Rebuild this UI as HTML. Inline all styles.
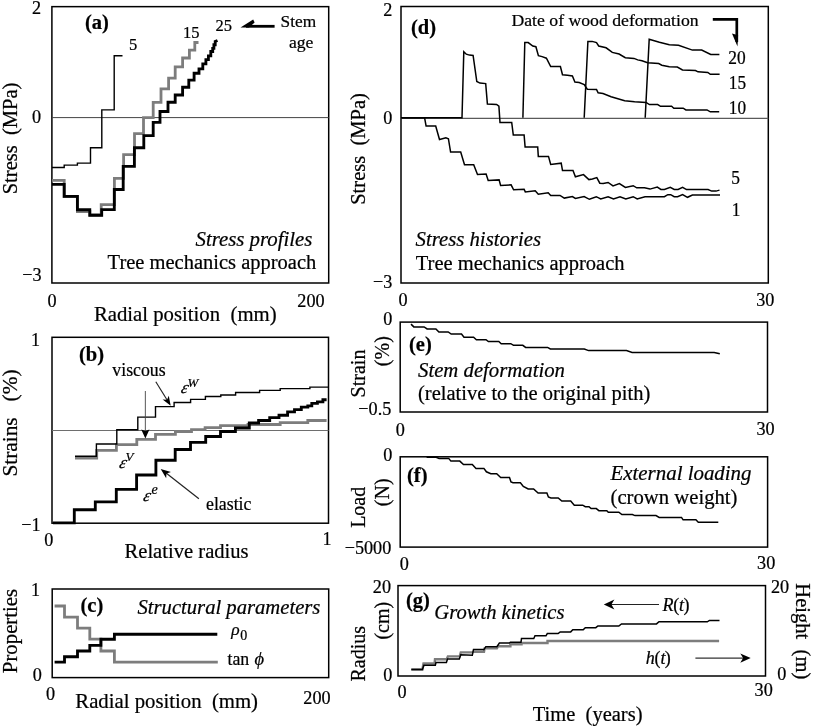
<!DOCTYPE html>
<html><head><meta charset="utf-8"><title>Tree mechanics figure</title>
<style>html,body{margin:0;padding:0;background:#fff;} svg{display:block;} text{font-family:"Liberation Serif", "Times New Roman", serif;fill:#000;stroke:#000;stroke-width:0.22px;}</style>
</head><body>
<svg width="813" height="727" viewBox="0 0 813 727">
<rect width="813" height="727" fill="#fff"/>
<rect x="51.9" y="6.65" width="276.8" height="276.35" fill="none" stroke="#000" stroke-width="1.5"/>
<line x1="52" y1="117.6" x2="328.7" y2="117.6" stroke="#444" stroke-width="1"/>
<text transform="translate(41.2,13.6) scale(1,1.06)" font-size="18.2" text-anchor="end">2</text>
<text transform="translate(41,123.3) scale(1,1.06)" font-size="18.2" text-anchor="end">0</text>
<text transform="translate(41.5,280.8) scale(1,1.06)" font-size="18.2" text-anchor="end">−3</text>
<text transform="translate(52,306.7) scale(1,1.06)" font-size="18.2" text-anchor="middle">0</text>
<text transform="translate(311,306.5) scale(1,1.06)" font-size="18.2" text-anchor="middle">200</text>
<text x="93.9" y="320.8" font-size="20.75" text-anchor="start" >Radial position&#160;&#160;(mm)</text>
<text transform="translate(17,138.5) rotate(-90)" x="0" y="0" font-size="20.5" text-anchor="middle" >Stress&#160;&#160;(MPa)</text>
<polyline points="52.0,180.4 64.2,180.4 64.2,196.5 77.4,196.5 77.4,211.5 89.8,211.5 89.8,215.0 101.2,215.0 101.2,204.6 114.4,204.6 114.4,178.4 123.6,178.4 123.6,154.6 134.5,154.6 134.5,133.7 143.5,133.7 143.5,117.6 153.2,117.6 153.2,102.3 161.0,102.3 161.0,88.9 168.6,88.9 168.6,78.1 175.2,78.1 175.2,66.8 182.6,66.8 182.6,58.0 189.4,58.0 189.4,50.1 194.8,50.1 194.8,42.5 198.5,42.5" fill="none" stroke="#7d7d7d" stroke-width="2.8" stroke-linejoin="miter" stroke-miterlimit="3" />
<polyline points="52.0,184.3 64.2,184.3 64.2,196.3 77.4,196.3 77.4,209.7 89.8,209.7 89.8,215.2 101.7,215.2 101.7,209.6 114.3,209.6 114.3,189.5 123.2,189.5 123.2,166.4 134.4,166.4 134.4,147.7 143.8,147.7 143.8,135.6 153.2,135.6 153.2,122.3 160.0,122.3 160.0,111.5 168.0,111.5 168.0,102.2 175.2,102.2 175.2,95.0 182.6,95.0 182.6,87.2 188.8,87.2 188.8,80.1 194.1,80.1 194.1,73.2 199.0,73.2 199.0,68.8 202.8,68.8 202.8,63.9 205.9,63.9 205.9,59.6 208.4,59.6 208.4,55.8 210.8,55.8 210.8,51.5 212.7,51.5 212.7,48.4 213.9,48.4 213.9,44.7 215.2,44.7 215.2,41.5 217.5,40.5" fill="none" stroke="#000" stroke-width="2.85" stroke-linejoin="miter" stroke-miterlimit="3" />
<polyline points="52.0,167.5 64.2,167.5 64.2,165.1 77.4,165.1 77.4,163.1 90.5,163.1 90.5,147.7 101.8,147.7 101.8,109.9 114.2,109.9 114.2,55.7 122.5,55.7" fill="none" stroke="#000" stroke-width="1.4" stroke-linejoin="miter" stroke-miterlimit="3" />
<text x="129" y="49.7" font-size="16.5" text-anchor="start" >5</text>
<text x="183" y="37.9" font-size="16.5" text-anchor="start" >15</text>
<text x="215.5" y="30.8" font-size="16.5" text-anchor="start" >25</text>
<text x="85" y="29.2" font-size="20.5" text-anchor="start" font-weight="bold" >(a)</text>
<text x="280.6" y="26.8" font-size="17.3" text-anchor="start" >Stem</text>
<text x="289" y="47.6" font-size="17.6" text-anchor="start" >age</text>
<line x1="246" y1="26.3" x2="274.6" y2="26.3" stroke="#000" stroke-width="2.8"/>
<polygon points="240.5,27.6 253.2,19.6 254.6,22.4 249,27.6" fill="#000"/>
<text x="195.5" y="245.5" font-size="20.8" text-anchor="start" font-style="italic" >Stress profiles</text>
<text x="107.6" y="269.1" font-size="20.5" text-anchor="start" >Tree mechanics approach</text>
<rect x="52" y="337.3" width="276.5" height="185.90000000000003" fill="none" stroke="#000" stroke-width="1.5"/>
<line x1="52" y1="430.5" x2="328.5" y2="430.5" stroke="#6e6e6e" stroke-width="1.2"/>
<text transform="translate(40,346) scale(1,1.06)" font-size="18.2" text-anchor="end">1</text>
<text transform="translate(40.6,531.2) scale(1,1.06)" font-size="18.2" text-anchor="end">−1</text>
<text transform="translate(48.7,545.8) scale(1,1.06)" font-size="18.2" text-anchor="middle">0</text>
<text transform="translate(327,544.5) scale(1,1.06)" font-size="18.2" text-anchor="middle">1</text>
<text x="124.5" y="558.3" font-size="20.6" text-anchor="start" >Relative radius</text>
<text transform="translate(17,423) rotate(-90)" x="0" y="0" font-size="21.3" text-anchor="middle" >Strains&#160;&#160;&#160;(%)</text>
<polyline points="75.0,458.2 96.7,458.2 96.7,450.3 116.4,450.3 116.4,444.6 136.8,444.6 136.8,439.4 155.5,439.4 155.5,434.4 175.4,434.4 175.4,431.5 191.5,431.5 191.5,429.6 205.1,429.6 205.1,427.6 220.5,427.6 220.5,425.6 235.4,425.6 248.0,425.6 248.0,424.5 280.2,424.5 280.2,422.6 307.8,422.6 307.8,420.5 326.6,420.5" fill="none" stroke="#7d7d7d" stroke-width="2.8" stroke-linejoin="miter" stroke-miterlimit="3" />
<polyline points="75.0,456.3 96.4,456.3 96.4,444.0 116.8,444.0 116.8,429.7 137.8,429.7 137.8,417.1 155.5,417.1 155.5,406.6 174.1,406.6 174.1,402.5 190.6,402.5 190.6,399.4 205.4,399.4 205.4,396.5 220.8,396.5 220.8,395.0 235.6,395.0 235.6,392.5 259.6,392.5 259.6,390.4 280.2,390.4 280.2,388.6 309.9,388.6 309.9,387.1 328.5,387.1" fill="none" stroke="#000" stroke-width="1.4" stroke-linejoin="miter" stroke-miterlimit="3" />
<polyline points="53.0,522.8 74.3,522.8 74.3,509.7 95.3,509.7 95.3,501.8 116.3,501.8 116.3,489.4 136.6,489.4 136.6,475.0 155.9,475.0 155.9,460.2 175.2,460.2 175.2,449.5 190.5,449.5 190.5,442.3 205.7,442.3 205.7,436.5 220.5,436.5 220.5,431.5 235.4,431.5 235.4,428.0 249.3,428.0 249.3,423.0 258.6,423.0 258.6,420.5 269.7,420.5 269.7,417.6 279.0,417.6 279.0,415.2 287.6,415.2 287.6,411.8 294.5,411.8 294.5,409.6 301.3,409.6 301.3,407.1 307.8,407.1 307.8,405.9 311.8,405.9 311.8,403.4 317.4,403.4 317.4,401.9 322.9,401.9 322.9,399.7 326.6,399.7" fill="none" stroke="#000" stroke-width="2.85" stroke-linejoin="miter" stroke-miterlimit="3" />
<text x="79" y="361" font-size="20.5" text-anchor="start" font-weight="bold" >(b)</text>
<text x="112.3" y="375.7" font-size="17.8" text-anchor="start" >viscous</text>
<text x="112.3" y="375.7" font-size="17" text-anchor="start" ></text>
<line x1="145.35" y1="391" x2="145.35" y2="431.6" stroke="#444" stroke-width="0.9"/>
<polygon points="145.35,438.50 141.25,429.50 145.35,431.10 149.45,429.50" fill="#000"/>
<line x1="155.8" y1="381.7" x2="167.2818545936454" y2="400.2713218595204" stroke="#222" stroke-width="1.15"/>
<polygon points="170.70,405.80 162.64,399.61 167.02,399.85 168.77,395.83" fill="#000"/>
<line x1="198.9" y1="498.8" x2="166.05473819338798" y2="473.0912741356623" stroke="#222" stroke-width="1.2"/>
<polygon points="160.70,468.90 170.98,471.99 166.45,473.40 166.17,478.13" fill="#000"/>
<text transform="translate(180.3,393) skewX(-16)" font-size="17" font-style="italic">ε</text>
<text x="187.6" y="386.6" font-size="13" text-anchor="start" font-style="italic" >W</text>
<text transform="translate(118.6,467.5) skewX(-16)" font-size="17" font-style="italic">ε</text>
<text x="125.6" y="461.3" font-size="13" text-anchor="start" font-style="italic" >V</text>
<text transform="translate(142.4,500.8) skewX(-16)" font-size="17" font-style="italic">ε</text>
<text x="151.6" y="494.4" font-size="14" text-anchor="start" font-style="italic" >e</text>
<text x="206" y="510.1" font-size="17.8" text-anchor="start" >elastic</text>
<rect x="52.2" y="589" width="276.5" height="88.60000000000002" fill="none" stroke="#000" stroke-width="1.5"/>
<text transform="translate(40,596.4) scale(1,1.06)" font-size="18.2" text-anchor="end">1</text>
<text transform="translate(41.8,680.5) scale(1,1.06)" font-size="18.2" text-anchor="end">0</text>
<text transform="translate(50.6,699.8) scale(1,1.06)" font-size="18.2" text-anchor="middle">0</text>
<text transform="translate(317,704.3) scale(1,1.06)" font-size="18.2" text-anchor="middle">200</text>
<text x="75.3" y="707.8" font-size="20.75" text-anchor="start" >Radial position&#160;&#160;(mm)</text>
<text transform="translate(17,631) rotate(-90)" x="0" y="0" font-size="20.8" text-anchor="middle" >Properties</text>
<polyline points="54.6,606.0 64.5,606.0 64.5,617.1 77.5,617.1 77.5,628.1 89.8,628.1 89.8,639.2 100.9,639.2 100.9,651.0 114.4,651.0 114.4,662.1 217.8,662.1" fill="none" stroke="#7d7d7d" stroke-width="2.8" stroke-linejoin="miter" stroke-miterlimit="3" />
<polyline points="54.6,662.1 64.5,662.1 64.5,656.7 77.5,656.7 77.5,651.0 89.8,651.0 89.8,645.4 100.9,645.4 100.9,639.2 114.4,639.2 114.4,634.2 217.3,634.2" fill="none" stroke="#000" stroke-width="2.85" stroke-linejoin="miter" stroke-miterlimit="3" />
<text x="80.5" y="611.5" font-size="20.5" text-anchor="start" font-weight="bold" >(c)</text>
<text x="137.5" y="614.4" font-size="20.65" text-anchor="start" font-style="italic" >Structural parameters</text>
<text x="231.2" y="635.2" font-size="17.5" text-anchor="start" font-style="italic" >ρ<tspan dx="0.6" dy="5" font-size="14" font-style="normal">0</tspan></text>
<text x="227.5" y="665.2" font-size="17.8" text-anchor="start" >tan</text>
<text x="254.6" y="665.2" font-size="18.5" text-anchor="start" font-style="italic" >ϕ</text>
<rect x="401" y="6.5" width="367.29999999999995" height="276.5" fill="none" stroke="#000" stroke-width="1.5"/>
<line x1="401" y1="118.45" x2="768.3" y2="118.45" stroke="#5a5a5a" stroke-width="1.2"/>
<text transform="translate(392.3,16) scale(1,1.06)" font-size="18.2" text-anchor="end">2</text>
<text transform="translate(392.3,123.8) scale(1,1.06)" font-size="18.2" text-anchor="end">0</text>
<text transform="translate(392.3,287.7) scale(1,1.06)" font-size="18.2" text-anchor="end">−3</text>
<text transform="translate(403,306) scale(1,1.06)" font-size="18.2" text-anchor="middle">0</text>
<text transform="translate(765.3,306.1) scale(1,1.06)" font-size="18.2" text-anchor="middle">30</text>
<text transform="translate(365,149) rotate(-90)" x="0" y="0" font-size="20.5" text-anchor="middle" >Stress&#160;&#160;(MPa)</text>
<polyline points="401.0,117.8 424.6,117.8 426.1,126.1 435.7,126.1 439.5,139.5 445.9,137.8 448.4,138.7 450.6,152.1 460.7,152.1 464.5,164.7 473.7,164.7 477.5,174.4 486.1,174.1 488.2,180.5 499.1,179.9 500.6,185.5 511.1,184.9 513.6,189.8 524.1,189.2 525.3,191.9 535.2,190.7 538.3,194.2 548.2,192.7 550.7,195.4 560.0,195.4 564.3,198.1 572.4,196.6 575.4,198.5 584.1,196.6 589.4,199.3 596.3,196.7 600.7,199.0 608.1,196.7 613.5,199.0 620.0,196.7 625.8,199.0 633.2,196.7 637.2,199.0 645.0,196.7 664.4,196.7 667.8,194.7 670.7,194.7 674.2,196.7 677.6,196.7 682.6,194.5 687.5,197.3 692.4,195.0 720.0,195.0" fill="none" stroke="#000" stroke-width="1.5" stroke-linejoin="miter" stroke-miterlimit="3" />
<polyline points="401.0,117.8 462.0,117.8 463.8,51.8 466.3,54.2 469.4,55.1 473.1,55.5 476.8,81.5 479.9,83.1 485.7,83.6 487.4,104.1 496.6,104.4 498.9,106.2 500.0,122.4 511.7,122.4 513.3,135.0 524.1,135.0 525.1,146.9 537.7,146.9 538.3,156.4 548.5,156.4 550.7,164.5 561.2,163.2 562.5,170.6 573.0,170.6 575.4,176.8 583.5,174.6 588.9,179.6 592.4,179.0 596.8,177.6 599.8,183.2 603.2,183.4 608.1,182.5 613.0,185.9 619.4,183.5 625.4,187.4 633.2,185.7 636.7,187.8 644.5,187.8 650.0,189.1 657.3,187.1 660.9,189.4 664.4,189.4 670.3,187.4 674.2,189.4 678.1,189.4 682.6,187.4 686.5,189.6 708.1,189.6 711.6,191.1 716.0,191.1 719.5,190.1" fill="none" stroke="#000" stroke-width="1.5" stroke-linejoin="miter" stroke-miterlimit="3" />
<polyline points="522.9,117.8 524.8,42.6 528.2,42.6 532.8,46.1 535.9,46.7 538.4,55.7 542.1,56.6 546.4,58.2 550.7,66.5 560.4,66.5 562.5,74.8 567.5,75.2 572.4,76.0 574.9,82.0 579.2,82.6 584.2,84.5 587.3,89.2 596.5,89.4 598.1,92.8 603.0,93.6 611.1,96.7 624.7,100.7 634.6,101.7 646.1,102.4 649.4,104.6 657.7,104.6 660.5,106.3 671.6,106.3 673.8,108.2 683.2,108.2 685.9,109.9 707.0,109.9 710.3,111.8 719.2,111.8" fill="none" stroke="#000" stroke-width="1.5" stroke-linejoin="miter" stroke-miterlimit="3" />
<polyline points="584.2,117.8 587.9,41.4 592.2,41.4 596.5,42.6 598.7,46.0 606.1,47.8 612.3,52.4 619.1,54.0 625.3,57.7 634.0,58.4 637.7,59.9 642.0,60.8 647.6,62.7 658.7,63.6 661.8,65.2 669.3,66.8 677.3,67.0 682.5,69.9 695.5,70.5 698.0,71.8 707.8,72.4 710.3,74.3 719.6,74.3" fill="none" stroke="#000" stroke-width="1.5" stroke-linejoin="miter" stroke-miterlimit="3" />
<polyline points="645.2,117.8 649.2,39.2 659.4,42.3 669.3,44.8 678.5,45.3 692.4,50.1 701.7,50.1 710.7,54.5 719.4,54.5" fill="none" stroke="#000" stroke-width="1.5" stroke-linejoin="miter" stroke-miterlimit="3" />
<text x="411" y="33.6" font-size="20.5" text-anchor="start" font-weight="bold" >(d)</text>
<text x="511.5" y="25.8" font-size="17.7" text-anchor="start" >Date of wood deformation</text>
<polyline points="712.8,19.4 736.8,19.4 736.8,42.0" fill="none" stroke="#000" stroke-width="2.7" stroke-linejoin="miter" stroke-miterlimit="3" />
<polygon points="732,33.6 738.1,35.2 737.5,46.4" fill="#000"/>
<text transform="translate(728.2,64.2) scale(1,1.08)" font-size="17.4" text-anchor="start">20</text>
<text transform="translate(728.8,88.5) scale(1,1.1)" font-size="17.2" text-anchor="start">15</text>
<text transform="translate(728.8,113.5) scale(1,1.1)" font-size="17.2" text-anchor="start">10</text>
<text transform="translate(731.3,183.5) scale(1,1.08)" font-size="17.4" text-anchor="start">5</text>
<text transform="translate(731.8,216.2) scale(1,1.08)" font-size="17.4" text-anchor="start">1</text>
<text x="415.5" y="245.8" font-size="20.75" text-anchor="start" font-style="italic" >Stress histories</text>
<text x="415.8" y="269.7" font-size="20.5" text-anchor="start" >Tree mechanics approach</text>
<rect x="400.2" y="322.1" width="367.3" height="89.89999999999998" fill="none" stroke="#000" stroke-width="1.5"/>
<text transform="translate(392.3,325.2) scale(1,1.06)" font-size="18.2" text-anchor="end">0</text>
<text transform="translate(391.3,415.4) scale(1,1.06)" font-size="18.2" text-anchor="end">−0.5</text>
<text transform="translate(400.3,436) scale(1,1.06)" font-size="18.2" text-anchor="middle">0</text>
<text transform="translate(765.5,435.2) scale(1,1.06)" font-size="18.2" text-anchor="middle">30</text>
<text transform="translate(364.5,373.5) rotate(-90)" x="0" y="0" font-size="20" text-anchor="middle" >Strain</text>
<text transform="translate(389,351.2) rotate(-90)" x="0" y="0" font-size="20" text-anchor="middle" >(%)</text>
<polyline points="411.0,324.1 413.8,326.9 424.1,326.9 427.1,328.9 435.9,328.9 438.9,332.0 448.2,332.0 451.2,334.0 461.5,334.0 464.0,337.2 473.6,337.2 476.4,339.7 486.0,339.7 488.4,341.5 498.8,341.5 501.2,343.7 510.8,343.7 513.5,345.3 522.8,345.3 525.6,347.4 547.6,347.4 550.3,349.0 584.3,349.0 588.6,350.6 626.5,350.6 632.1,352.4 714.2,352.4 719.8,353.7" fill="none" stroke="#000" stroke-width="1.5" stroke-linejoin="miter" stroke-miterlimit="3" />
<text x="409" y="350.6" font-size="20.5" text-anchor="start" font-weight="bold" >(e)</text>
<text x="418" y="377.1" font-size="20.75" text-anchor="start" font-style="italic" >Stem deformation</text>
<text x="418" y="399.8" font-size="20.5" text-anchor="start" >(relative to the original pith)</text>
<rect x="400.2" y="456.8" width="367.40000000000003" height="90.30000000000001" fill="none" stroke="#000" stroke-width="1.5"/>
<text transform="translate(392.3,460.7) scale(1,1.06)" font-size="18.2" text-anchor="end">0</text>
<text transform="translate(391.3,553.6) scale(1,1.06)" font-size="18.2" text-anchor="end">−5000</text>
<text transform="translate(404.2,569.9) scale(1,1.06)" font-size="18.2" text-anchor="middle">0</text>
<text transform="translate(766.2,568.6) scale(1,1.06)" font-size="18.2" text-anchor="middle">30</text>
<text transform="translate(364.5,507.3) rotate(-90)" x="0" y="0" font-size="20" text-anchor="middle" >Load</text>
<text transform="translate(389,492.3) rotate(-90)" x="0" y="0" font-size="20" text-anchor="middle" >(N)</text>
<polyline points="426.6,457.2 436.2,457.2 439.1,458.4 448.7,458.4 450.9,461.1 459.8,461.1 463.5,464.5 472.3,464.5 476.0,468.4 483.9,468.4 486.4,471.8 490.8,473.8 496.7,473.8 500.7,477.5 509.5,477.5 511.0,481.9 513.0,482.8 520.4,482.8 523.3,486.4 528.2,489.0 533.6,489.0 538.1,493.0 546.9,493.0 548.4,496.9 550.9,497.9 558.2,497.9 561.8,501.0 570.7,501.0 574.3,505.2 582.7,505.2 585.3,506.7 589.0,506.7 591.1,508.6 596.3,508.6 598.9,510.7 606.8,510.7 608.3,512.2 618.8,512.2 621.9,514.6 632.4,514.6 635.0,515.6 656.0,515.6 659.2,517.4 681.5,517.4 683.1,519.8 695.9,519.8 698.3,522.2 718.3,522.2" fill="none" stroke="#000" stroke-width="1.5" stroke-linejoin="miter" stroke-miterlimit="3" />
<text x="407" y="481.8" font-size="20.5" text-anchor="start" font-weight="bold" >(f)</text>
<text x="610.5" y="480.2" font-size="20.9" text-anchor="start" font-style="italic" >External loading</text>
<text x="610.5" y="503.5" font-size="20.7" text-anchor="start" >(crown weight)</text>
<rect x="398" y="585.6" width="367.5" height="90.39999999999998" fill="none" stroke="#000" stroke-width="1.5"/>
<text transform="translate(391,593.1) scale(1,1.06)" font-size="18.2" text-anchor="end">20</text>
<text transform="translate(392.3,680.7) scale(1,1.06)" font-size="18.2" text-anchor="end">0</text>
<text transform="translate(402,697.6) scale(1,1.06)" font-size="18.2" text-anchor="middle">0</text>
<text transform="translate(763.7,696) scale(1,1.06)" font-size="18.2" text-anchor="middle">30</text>
<text transform="translate(771,592.5) scale(1,1.06)" font-size="18.2" text-anchor="start">20</text>
<text transform="translate(777.3,679.7) scale(1,1.06)" font-size="18.2" text-anchor="start">0</text>
<text x="532.8" y="720.7" font-size="20.5" text-anchor="start" >Time&#160;&#160;(years)</text>
<text transform="translate(364.5,653.8) rotate(-90)" x="0" y="0" font-size="20" text-anchor="middle" >Radius</text>
<text transform="translate(389,620.7) rotate(-90)" x="0" y="0" font-size="20" text-anchor="middle" >(cm)</text>
<text transform="translate(795.6,631.3) rotate(90)" x="0" y="0" font-size="20.6" text-anchor="middle" >Height&#160;&#160;(m)</text>
<polyline points="411.3,669.5 422.4,669.5 423.5,663.5 434.6,663.5 435.0,659.3 446.7,659.3 447.9,656.4 459.7,656.4 460.8,652.4 472.3,652.4 473.5,651.8 484.0,651.8 484.6,648.4 496.9,648.4 498.1,646.3 510.4,646.3 510.4,644.2 521.5,644.2 521.5,643.0 547.5,643.0 547.5,641.0 719.1,641.0" fill="none" stroke="#7d7d7d" stroke-width="2.4" stroke-linejoin="miter" stroke-miterlimit="3" />
<polyline points="411.3,669.5 422.4,669.5 423.9,665.3 435.3,665.3 436.0,662.5 446.4,662.5 447.5,659.0 459.3,659.0 460.8,654.8 472.3,655.3 473.5,649.6 484.0,649.6 485.8,646.7 496.9,646.7 499.4,643.0 509.2,643.0 510.4,642.2 521.0,642.2 521.5,638.5 533.8,638.5 535.0,635.8 546.0,635.8 547.3,633.6 558.1,633.6 560.2,631.9 570.7,631.9 572.8,629.8 583.2,629.8 585.3,627.7 595.8,627.7 597.9,626.0 618.8,626.0 621.5,623.9 656.5,623.9 659.0,621.8 707.3,621.8 709.4,620.4 719.5,620.4" fill="none" stroke="#000" stroke-width="1.5" stroke-linejoin="miter" stroke-miterlimit="3" />
<text x="406" y="606.9" font-size="20.5" text-anchor="start" font-weight="bold" >(g)</text>
<text x="434.3" y="619.2" font-size="20.6" text-anchor="start" font-style="italic" >Growth kinetics</text>
<text x="662.6" y="610.7" font-size="18" text-anchor="start" ><tspan font-style="italic">R</tspan><tspan dx="-0.3">(</tspan><tspan font-style="italic" dx="-0.2">t</tspan><tspan dx="-0.6">)</tspan></text>
<text x="645.8" y="664.4" font-size="18" text-anchor="start" ><tspan font-style="italic">h</tspan><tspan dx="-0.2">(</tspan><tspan font-style="italic" dx="-0.2">t</tspan><tspan dx="-0.6">)</tspan></text>
<line x1="659" y1="604.5" x2="610.9" y2="604.5" stroke="#222" stroke-width="1.1"/>
<polygon points="603.80,604.50 614.40,599.60 611.40,604.50 614.40,609.40" fill="#000"/>
<line x1="695.4" y1="658.1" x2="743.6" y2="658.1" stroke="#333" stroke-width="1.1"/>
<polygon points="750.70,658.10 740.30,662.70 743.10,658.10 740.30,653.50" fill="#000"/>
</svg>
</body></html>
